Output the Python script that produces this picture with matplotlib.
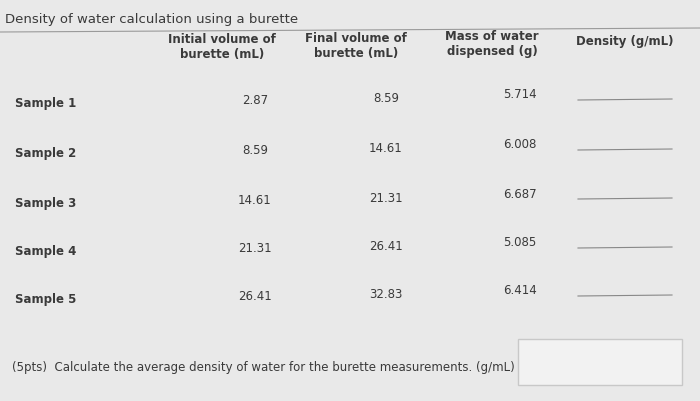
import matplotlib.pyplot as plt

title = "Density of water calculation using a burette"
headers = ["Initial volume of\nburette (mL)", "Final volume of\nburette (mL)",
           "Mass of water\ndispensed (g)", "Density (g/mL)"]
samples = ["Sample 1", "Sample 2", "Sample 3", "Sample 4", "Sample 5"]
initial = ["2.87", "8.59", "14.61", "21.31", "26.41"]
final = ["8.59", "14.61", "21.31", "26.41", "32.83"]
mass = ["5.714", "6.008", "6.687", "5.085", "6.414"]
question = "(5pts)  Calculate the average density of water for the burette measurements. (g/mL)"

fig = plt.figure(figsize=(7, 4.01), dpi=100)
fig.patch.set_facecolor("#e9e9e9")
ax = fig.add_axes([0, 0, 1, 1])
ax.set_xlim(0, 700); ax.set_ylim(401, 0); ax.axis("off")
ax.set_facecolor("#e9e9e9")

tc = "#3a3a3a"
ax.text(5, 20, title, fontsize=9.5, color=tc, va="center")
ax.plot([0, 700], [32, 28], color="#9a9a9a", lw=0.8)
hx = [222, 356, 492, 625]
hy = [47, 46, 44, 42]
for x, y, h in zip(hx, hy, headers):
    ax.text(x, y, h, fontsize=8.5, fontweight="bold", color=tc, ha="center", va="center", linespacing=1.2)

rows_y = [104, 154, 203, 252, 300]
for i, y in enumerate(rows_y):
    ax.text(15, y, samples[i], fontsize=8.5, fontweight="bold", color=tc, va="center")
    ax.text(255, y - 3, initial[i], fontsize=8.5, color=tc, ha="center", va="center")
    ax.text(386, y - 5, final[i], fontsize=8.5, color=tc, ha="center", va="center")
    ax.text(520, y - 9, mass[i], fontsize=8.5, color=tc, ha="center", va="center")
    ax.plot([578, 672], [y - 4, y - 5], color="#888888", lw=0.8)

ax.text(12, 367, question, fontsize=8.5, color=tc, va="center")
ax.add_patch(plt.Rectangle((518, 339), 164, 46, facecolor="#f2f2f2", edgecolor="#c8c8c8", lw=1))
fig.savefig("out.png", dpi=100, facecolor=fig.get_facecolor())
